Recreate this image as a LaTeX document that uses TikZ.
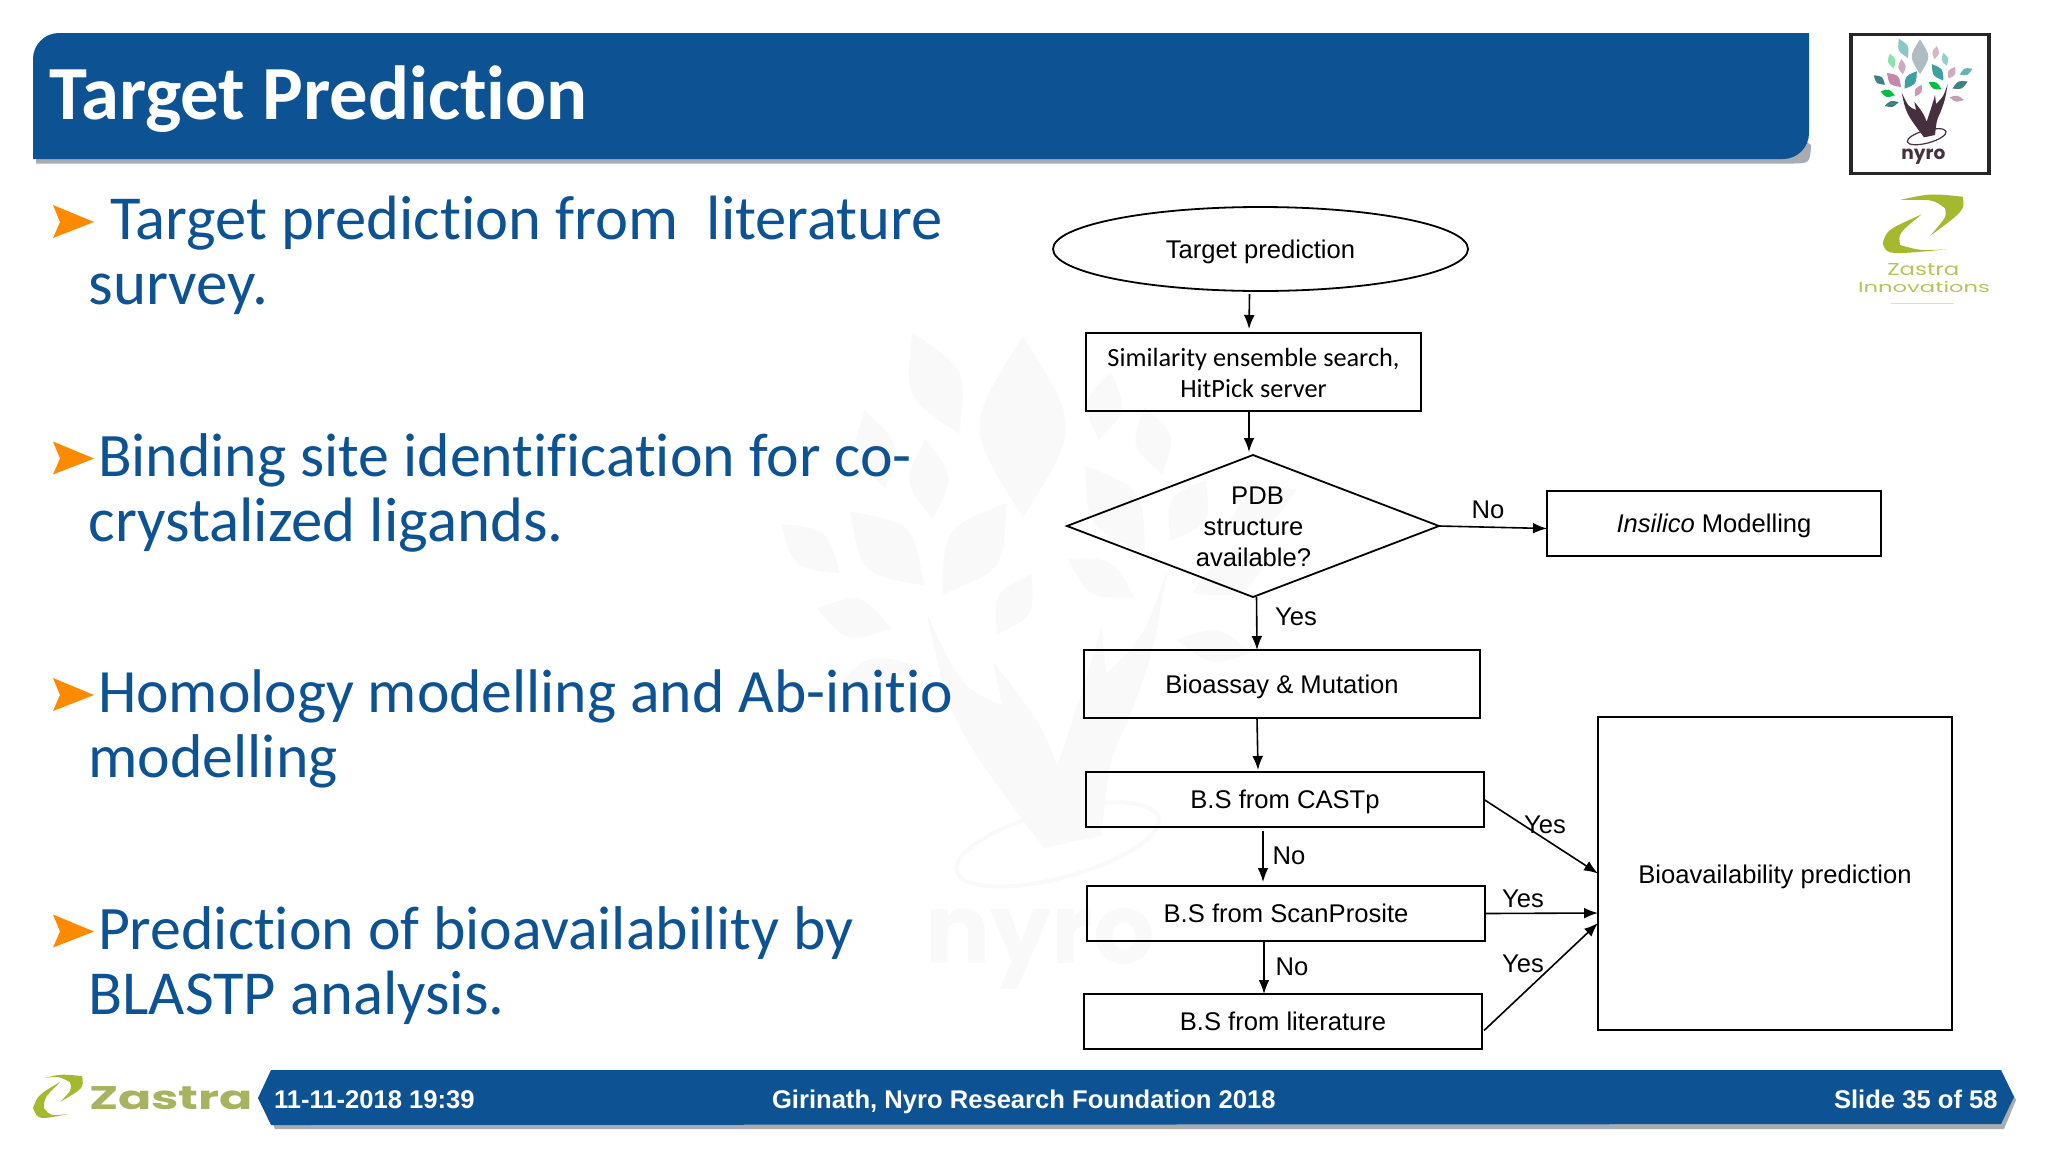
\documentclass[tikz,border=0pt]{standalone}
\usepackage{fontspec}
\usepackage{graphicx}
\usetikzlibrary{shapes.geometric,arrows.meta,calc}
\setmainfont{Carlito}[Ligatures=NoCommon]
\newfontfamily\arialf{Liberation Sans}
\newfontfamily\popf{Poppins}
\definecolor{slideblue}{HTML}{0D5394}
\definecolor{shadowgrey}{HTML}{A8ACB0}
\definecolor{bulletorange}{HTML}{FF8A00}
\definecolor{zgreen}{HTML}{A6B82E}
\definecolor{zolive}{HTML}{A8B360}
\definecolor{zlight}{HTML}{B9C25A}
\definecolor{wmark}{HTML}{F9F9F9}
\definecolor{trunkc}{HTML}{46303F}
\newif\ifwm
\newcommand{\leaf}[6]{\ifwm\def\lfc{wmark}\else\def\lfc{#6}\fi\fill[\lfc,shift={(#1,#2)},rotate=#3] (-#4,0) .. controls (0,#5*1.5) .. (#4,0) .. controls (0,-#5*1.5) .. cycle;}
\newcommand{\dn}[1]{\raisebox{-1.25pt}[\height][\depth]{#1}}
\newcommand{\dnn}[1]{\raisebox{-0.4pt}[\height][\depth]{#1}}
\newcommand{\nyrotree}{%
\leaf{420}{170}{90}{52}{22}{black!30!cyan!25!gray!60}
\leaf{370}{145}{115}{32}{13}{teal!45}
\leaf{335}{183}{105}{23}{10}{green!50!teal!45}
\leaf{366}{200}{95}{23}{10}{magenta!30!gray!60}
\leaf{467}{158}{80}{20}{9}{magenta!30!gray!50}
\leaf{495}{178}{105}{20}{9}{teal!40}
\leaf{473}{217}{125}{30}{13}{teal!75}
\leaf{515}{218}{60}{20}{10}{magenta!30!gray!60}
\leaf{558}{215}{25}{21}{9}{teal!60}
\leaf{392}{240}{55}{32}{14}{teal!75}
\leaf{342}{240}{135}{30}{14}{magenta!40!gray!80}
\leaf{298}{240}{140}{22}{10}{teal!50!gray}
\leaf{415}{272}{60}{20}{9}{magenta!40!gray!70}
\leaf{465}{257}{150}{22}{9}{green!50!teal}
\leaf{540}{255}{25}{25}{10}{teal!50!gray}
\leaf{323}{280}{165}{22}{10}{green!50!teal}
\leaf{530}{296}{170}{22}{8}{magenta!30!gray!70}
\leaf{335}{312}{15}{22}{8}{teal!50!gray}
\ifwm\def\lfc{wmark}\else\def\lfc{trunkc}\fi
\fill[\lfc] (365,278) .. controls (378,340) .. (432,412) -- (465,405) .. controls (470,360) .. (480,340) .. controls (495,300) .. (503,252) .. controls (490,290) .. (468,312) -- (465,285) .. controls (458,310) .. (440,365) .. controls (430,340) .. (403,305) -- (408,330) .. controls (385,320) .. cycle;
\draw[\lfc,line width=\ringw,rotate around={15:(440,410)}] (440,410) ellipse[x radius=10pt,y radius=3.2pt];
}
\tikzset{
  x=0.5pt,y=-0.5pt,
  every node/.style={inner sep=0pt,outer sep=0pt},
  bodytext/.style={anchor=base west,text=slideblue,font=\fontsize{#1}{#1}\selectfont},
  bodytext/.default=30.9,
  foot/.style={anchor=base west,text=white,font=\arialf\bfseries\fontsize{12.8}{12.8}\selectfont},
  flowbox/.style={draw=black,line width=0.9pt,align=center,font=\arialf\fontsize{12.8}{15.5}\selectfont},
  flowlabel/.style={font=\arialf\fontsize{12.8}{15.5}\selectfont},
  flowarrow/.style={draw=black,line width=0.8pt,-{Latex[length=7pt,width=5.4pt]}},
  logoscope/.style={shift={(1780,0)},x=0.16667pt,y=-0.16667pt},
}
\begin{document}
\begin{tikzpicture}
\useasboundingbox (0,0) rectangle (2048,1152);
\fill[white] (0,0) rectangle (2048,1152);
% watermark
\wmtrue
\def\ringw{2pt}
\begin{scope}[shift={(292,131)},scale=5.22,x=0.16667pt,y=-0.16667pt]
\nyrotree
\node[transform shape,text=wmark] (wmtext) at (430,470) {\resizebox{22pt}{!}{\popf\bfseries nyro}};
\end{scope}
\wmfalse
\def\ringw{0.6pt}
% title
\fill[shadowgrey] (36,159) -- (36,163.5) -- (1790,163.5) .. controls (1810,163.5) .. (1811,145) -- (1790,130) -- cycle;
\fill[slideblue] (33,159) [rounded corners=13pt] -- (33,33) [sharp corners] -- (1809,33) [rounded corners=13pt] -- (1809,159) [sharp corners] -- cycle;
\node[anchor=base west,text=white,font=\bfseries\fontsize{38.3}{38.3}\selectfont] (title) at (49,119) {Target Prediction};
% bullets
\foreach \yy in {238,474.5,711,947.5}{
  \fill[bulletorange] (53,\yy-33) -- (94,\yy-16) -- (53,\yy) -- (60,\yy-16) -- cycle;
}
\node[bodytext=31.3] (b1a) at (110,239.5) {Target prediction from\ \ literature};
\node[bodytext=31.5] (b1b) at (88.5,304.5) {survey.};
\node[bodytext] (b2a) at (98,476) {Binding site identification for co-};
\node[bodytext=31.4] (b2b) at (88.5,541) {crystalized ligands.};
\node[bodytext=30.8] (b3a) at (98,712.5) {Homology modelling and Ab-initio};
\node[bodytext] (b3b) at (88.5,777.5) {modelling};
\node[bodytext] (b4a) at (98,949) {Prediction of bioavailability by};
\node[bodytext=31.3] (b4b) at (88.5,1014) {BLASTP analysis.};
% flowchart
\node[flowbox,ellipse,minimum width=207.5pt,minimum height=42pt] (tp) at (1260.5,249) {\dn{Target prediction}};
\node[flowbox,rectangle,minimum width=167.5pt,minimum height=39pt,font=\fontsize{13.15}{15.5}\selectfont] (sim) at (1253.5,372) {\dnn{Similarity ensemble search,}\\\dnn{HitPick server}};
\node[flowbox,diamond,aspect=2.62,minimum width=186pt,minimum height=71pt] (pdb) at (1253,526) {};
\node[flowlabel,align=center] (pdbt) at (1253.5,527) {\hspace*{4pt}PDB\\structure\\available?};
\node[flowbox,rectangle,minimum width=167pt,minimum height=32.5pt] (ins) at (1714,523.5) {\dn{\textit{Insilico} Modelling}};
\node[flowbox,rectangle,minimum width=198pt,minimum height=34pt] (bio) at (1282,684) {\dn{Bioassay \& Mutation}};
\node[flowbox,rectangle,minimum width=199pt,minimum height=27.5pt] (cas) at (1285,799.5) {\dn{B.S from CASTp}};
\node[flowbox,rectangle,minimum width=199pt,minimum height=27.5pt] (sca) at (1286,913.5) {B.S from ScanProsite};
\node[flowbox,rectangle,minimum width=199pt,minimum height=27.5pt] (lit) at (1283,1021.5) {B.S from literature};
\node[flowbox,rectangle,minimum width=177pt,minimum height=156.5pt] (ava) at (1775,873.5) {};
\node[flowlabel] (avat) at (1775,876.5) {Bioavailability prediction};
\draw[flowarrow] ([xshift=-5.5pt,yshift=-1.5pt]tp.south) -- ([xshift=-2.25pt,yshift=2pt]sim.north);
\draw[flowarrow] ([xshift=-2.25pt]sim.south) -- ([xshift=-2pt,yshift=1.5pt]pdb.north);
\draw[flowarrow] (pdb.east) -- ([yshift=-2.5pt]ins.west);
\draw[flowarrow] ([xshift=1.75pt]pdb.south) -- ([xshift=-12.5pt]bio.north);
\draw[flowarrow] ([xshift=-12.5pt]bio.south) -- ([xshift=-13.5pt,yshift=1pt]cas.north);
\draw[flowarrow] ([xshift=-11pt,yshift=-2pt]cas.south) -- ([xshift=-11.5pt,yshift=2pt]sca.north);
\draw[flowarrow] ([xshift=-11pt]sca.south) -- ([xshift=-9.5pt]lit.north);
\draw[flowarrow] (cas.east) -- (ava.west);
\draw[flowarrow] (sca.east) -- ([yshift=-19.75pt]ava.west);
\draw[flowarrow] ([xshift=1pt,yshift=-4.5pt]lit.east) -- ([yshift=-24.75pt]ava.west);
\node[flowlabel] (lno1) at (1488,510) {No};
\node[flowlabel] (lyes1) at (1296,617) {Yes};
\node[flowlabel] (lno2) at (1289,856) {No};
\node[flowlabel] (lno3) at (1292,967) {No};
\node[flowlabel] (lyes2) at (1545,825) {Yes};
\node[flowlabel] (lyes3) at (1523,899) {Yes};
\node[flowlabel] (lyes4) at (1523,964) {Yes};
% footer
\fill[shadowgrey] (262,1098) -- (275,1075) -- (2003,1075) -- (2016,1100) -- (2004,1129) -- (275,1129) -- cycle;
\fill[slideblue] (258,1098) -- (271,1070) -- (2001,1070) -- (2014,1097) -- (2001,1124) -- (271,1125) -- cycle;
\node[foot] (fd) at (274,1108) {11-11-2018 19:39};
\node[foot] (fm) at (772,1108) {Girinath, Nyro Research Foundation 2018};
\node[foot] (fs) at (1834,1108) {Slide 35 of 58};
% nyro logo
\node[draw=black!85,line width=1.6pt,fill=white,minimum width=69pt,minimum height=69.5pt] (nyrobox) at (1920,104) {};
\begin{scope}[logoscope]
\nyrotree
\node[text=trunkc] (nyrot) at (430,470) {\resizebox{22pt}{!}{\popf\bfseries nyro}};
% Zastra logo
\fill[zgreen] (360,600) .. controls (450,580) .. (548,590) .. controls (555,630) .. (450,708) .. controls (500,650) .. (495,625) .. controls (460,598) .. cycle;
\fill[zgreen] (425,643) .. controls (320,690) .. (308,730) .. controls (320,765) .. (500,748) .. controls (420,752) .. (360,735) .. controls (355,700) .. cycle;
\node[text=zlight] (zas) at (430,808) {\resizebox{36pt}{6pt}{\popf Zastra}};
\node[text=zlight] (inn) at (432,862) {\resizebox{66pt}{5.5pt}{\popf Innovations}};
\draw[zlight!50,line width=0.5pt] (332,910) -- (522,910);
\end{scope}
% bottom Zastra logo
\fill[zgreen] (45,1078) .. controls (60,1074) .. (82,1076) .. controls (84,1088) .. (60,1102) .. controls (72,1090) .. (70,1082) .. controls (58,1076) .. cycle;
\fill[zgreen] (60,1082) .. controls (38,1095) .. (33,1108) .. controls (38,1120) .. (68,1114) .. controls (50,1116) .. (44,1108) .. controls (44,1098) .. cycle;
\node[text=zolive,anchor=west] (zbot) at (89,1098) {\resizebox{82pt}{11.5pt}{\popf\bfseries Zastra}};
\end{tikzpicture}
\end{document}
